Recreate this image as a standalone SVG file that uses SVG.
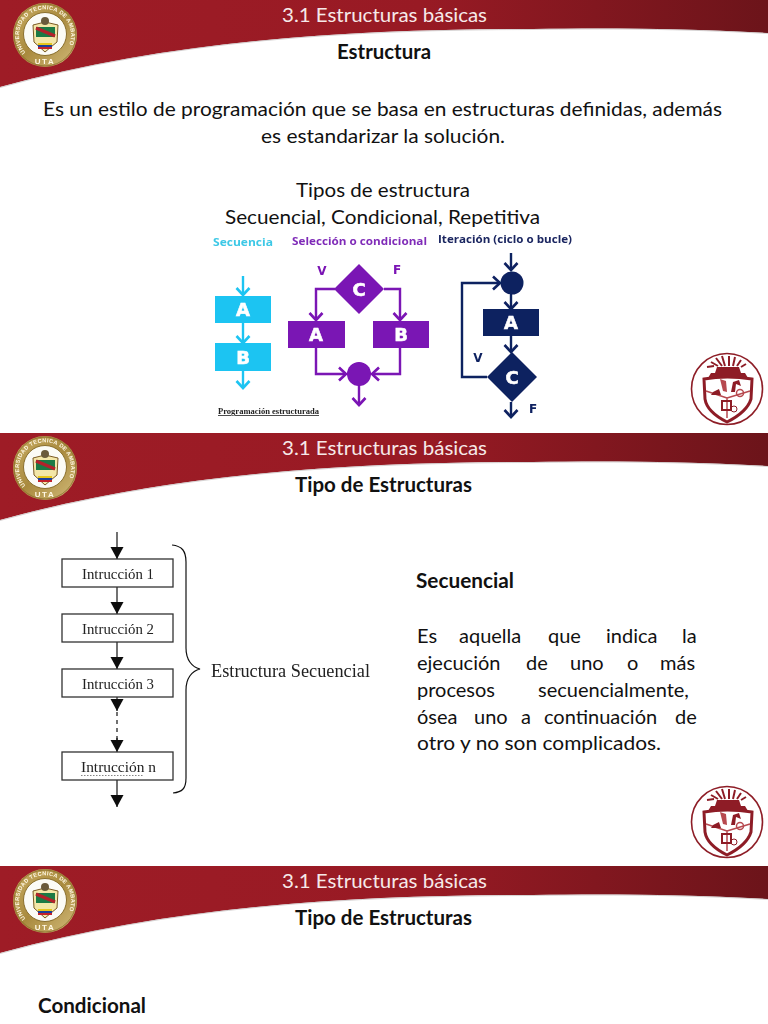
<svg xmlns="http://www.w3.org/2000/svg" xmlns:xlink="http://www.w3.org/1999/xlink" width="768" height="1024" viewBox="0 0 768 1024">
<style>
.t{font-family:Lato,"Open Sans","Liberation Sans",sans-serif;font-size:20px;fill:#111}
.b{font-weight:700}
.h{font-family:Lato,"Open Sans","Liberation Sans",sans-serif;font-size:20px;fill:#f6e9e9}
.lt{font-family:"DejaVu Sans","Liberation Sans",sans-serif;font-weight:700;font-size:18px;fill:#fff;stroke:#fff;stroke-width:.6;text-anchor:middle}
.vf{font-family:"DejaVu Sans","Liberation Sans",sans-serif;font-weight:700;font-size:12px;text-anchor:middle}
.fc{font-family:"Open Sans","Liberation Sans",sans-serif;font-weight:700;font-size:11px}
.s{font-family:"Liberation Serif",serif;fill:#222}
.c{fill:none;stroke-width:2.4}
.cy{stroke:#1fc4f2}.pu{stroke:#7a12b4}.na{stroke:#0e2060}
.k{stroke:#111;stroke-width:1.2;fill:none}
.box{fill:#fff;stroke:#333;stroke-width:1.3}
</style>
<defs>
<linearGradient id="band" x1="0" x2="1" y1="0" y2="0"><stop offset="0" stop-color="#9e1c26"/><stop offset=".55" stop-color="#981a24"/><stop offset="1" stop-color="#6c141a"/></linearGradient>
<linearGradient id="gold" x1="0" x2="1" y1="0" y2="1"><stop offset="0" stop-color="#c9ad63"/><stop offset=".5" stop-color="#a98a3e"/><stop offset="1" stop-color="#d3bc7c"/></linearGradient>
<filter id="soft" x="-5%" y="-5%" width="110%" height="110%"><feGaussianBlur stdDeviation=".45"/></filter>
<marker id="hc" markerUnits="userSpaceOnUse" markerWidth="16" markerHeight="16" refX="10" refY="8" orient="auto"><path d="M3 1.500L10 8L3 14.500" fill="none" stroke="#1fc4f2" stroke-width="2.600"/></marker>
<marker id="hp" markerUnits="userSpaceOnUse" markerWidth="16" markerHeight="16" refX="10" refY="8" orient="auto"><path d="M3 1.500L10 8L3 14.500" fill="none" stroke="#7a12b4" stroke-width="2.600"/></marker>
<marker id="hn" markerUnits="userSpaceOnUse" markerWidth="16" markerHeight="16" refX="10" refY="8" orient="auto"><path d="M3 1.500L10 8L3 14.500" fill="none" stroke="#0e2060" stroke-width="2.600"/></marker>
<marker id="hk" markerUnits="userSpaceOnUse" markerWidth="14" markerHeight="14" refX="12" refY="7" orient="auto"><path d="M0 0.500L12 7L0 13.500Z" fill="#111"/></marker>
<path id="arcFull" d="M25.500 52.500A26 26 0 1 1 64.500 52.500" fill="none"/>
<g id="bandShape">
<path d="M0 0H768V33C680 28 600 28 533 29C350 29 170 40 0 87Z" fill="url(#band)"/>
<path d="M768 33.500C680 28.500 600 28.500 533 29.500C350 29.500 170 40.500 0 87.500" fill="none" stroke="#c9c5c5" stroke-width=".8"/>
</g>
<g id="uta" filter="url(#soft)">
<circle cx="45" cy="35" r="32" fill="url(#gold)"/>
<circle cx="45" cy="35" r="31" fill="none" stroke="#8a6f2c" stroke-width=".8"/>
<circle cx="45" cy="34" r="21.500" fill="#fbfbf6" stroke="#8a6f2c"/>
<text font-family="'Liberation Sans',sans-serif" font-weight="700" font-size="5.600" letter-spacing=".35" fill="#fff8e4"><textPath href="#arcFull" xlink:href="#arcFull">UNIVERSIDAD TECNICA DE AMBATO</textPath></text>
<text x="45" y="64" font-family="'Liberation Sans',sans-serif" font-weight="700" font-size="8" letter-spacing="1.500" text-anchor="middle" fill="#fff8e4">UTA</text>
<path d="M33 25L45 22L58 25L57 42L45 52L34 42Z" fill="#f3e7a8" stroke="#7a5a24"/>
<rect x="36" y="27" width="19" height="10" fill="#1f7a45"/>
<path d="M36 28L55 36" stroke="#b3202c" stroke-width="3.500"/>
<circle cx="45" cy="21" r="4" fill="#6a5a3a"/>
<rect x="38" y="43" width="14" height="2" fill="#e7c71c"/><rect x="38" y="45" width="14" height="2" fill="#1f3f9a"/><rect x="38" y="47" width="14" height="2" fill="#c3202c"/>
</g>
<g id="seal" filter="url(#soft)">
<circle cx="727" cy="389" r="35.500" fill="#fff" stroke="#8e1f28" stroke-width="1.600"/>
<path d="M707 367L714 366M711 362L718 366M716 358L722 366M722 356L725 366M729 356L729 366M735 357L733 366M741 360L737 366M746 364L741 367" stroke="#8e1f28" stroke-width="2" fill="none"/>
<path d="M708 378L711 373H715L717 367H739L741 373H745L748 378Z" fill="#8e1f28"/>
<path d="M704 379Q727 375 752 379L751 399Q747 412 727 422Q707 412 705 399Z" fill="#fff" stroke="#8e1f28" stroke-width="3"/>
<path d="M727 398V418M727 398L706 391M727 398L750 391" stroke="#b74a50" stroke-width="1.500" fill="none"/>
<path d="M720 379L723 391L727 392L726 381Z" fill="#b74a50"/>
<path d="M731 392L733 382L739 380L741 386L736 384L735 392Z" fill="#8e1f28"/>
<path d="M713 392L719 389L721 395L711 395Z" fill="#8e1f28"/>
<rect x="722" y="401" width="9" height="9" fill="none" stroke="#8e1f28" stroke-width="2"/>
<circle cx="740" cy="393" r="3.500" fill="none" stroke="#b74a50" stroke-width="1.500"/>
<circle cx="734" cy="409" r="3" fill="none" stroke="#8e1f28"/>
</g>
</defs>

<g id="slide-1-header">
<use href="#bandShape" xlink:href="#bandShape"/>
<use href="#uta" xlink:href="#uta"/>
<text class="h" x="282" y="22" textLength="205" lengthAdjust="spacingAndGlyphs">3.1 Estructuras básicas</text>
</g>
<g id="slide-1-text">
<text class="t b" x="337" y="59" textLength="94" lengthAdjust="spacingAndGlyphs">Estructura</text>
<text class="t" x="43" y="116" textLength="679" lengthAdjust="spacingAndGlyphs">Es un estilo de programación que se basa en estructuras definidas, además</text>
<text class="t" x="261" y="143" textLength="244" lengthAdjust="spacingAndGlyphs">es estandarizar la solución.</text>
<text class="t" x="296" y="197" textLength="174" lengthAdjust="spacingAndGlyphs">Tipos de estructura</text>
<text class="t" x="225" y="224" textLength="315" lengthAdjust="spacingAndGlyphs">Secuencial, Condicional, Repetitiva</text>
</g>

<g id="connectors" filter="url(#soft)">
<path class="c cy" marker-end="url(#hc)" d="M243 276V295"/>
<path class="c cy" marker-end="url(#hc)" d="M243 323V343"/>
<path class="c cy" marker-end="url(#hc)" d="M243 371V388"/>
<path class="c pu" marker-end="url(#hp)" d="M335 289H316V320"/>
<path class="c pu" marker-end="url(#hp)" d="M384 289H400V320"/>
<path class="c pu" marker-end="url(#hp)" d="M316 348V374H346"/>
<path class="c pu" marker-end="url(#hp)" d="M400 348V374H372"/>
<path class="c pu" marker-end="url(#hp)" d="M359 385V405"/>
<path class="c na" marker-end="url(#hn)" d="M511 253V270"/>
<path class="c na" marker-end="url(#hn)" d="M511 294V309"/>
<path class="c na" marker-end="url(#hn)" d="M511 336V352"/>
<path class="c na" marker-end="url(#hn)" d="M487 377H462V283H500"/>
<path class="c na" marker-end="url(#hn)" d="M511 402V417"/>
<path class="k" marker-end="url(#hk)" d="M117 532V559"/>
<path class="k" marker-end="url(#hk)" d="M117 587V614"/>
<path class="k" marker-end="url(#hk)" d="M117 642V669"/>
<path class="k" marker-end="url(#hk)" d="M117 697V711"/>
<path class="k" stroke-dasharray="4 4" d="M117 712V740"/>
<path class="k" marker-end="url(#hk)" d="M117 738V752"/>
<path class="k" marker-end="url(#hk)" d="M117 780V807"/>
<path class="k" d="M172 545C182 546 186 551 186 562V648C186 660 192 667 200 669C192 671 186 678 186 690V778C186 789 182 792 173 793"/>
</g>

<g filter="url(#soft)">
<g id="title-secuencia"><text class="fc" x="213" y="246" fill="#3cc8e6" textLength="60" lengthAdjust="spacingAndGlyphs">Secuencia</text></g>
<g id="title-seleccion"><text class="fc" x="292" y="245" fill="#7f2bb8" textLength="135" lengthAdjust="spacingAndGlyphs">Selección o condicional</text></g>
<g id="title-iteracion"><text class="fc" x="438" y="243" fill="#1a2560" textLength="134" lengthAdjust="spacingAndGlyphs">Iteración (ciclo o bucle)</text></g>
<g id="seq-a"><rect x="215" y="296" width="56" height="27" fill="#1fc4f2"/><text class="lt" x="243" y="316">A</text></g>
<g id="seq-b"><rect x="215" y="343" width="56" height="28" fill="#1fc4f2"/><text class="lt" x="243" y="364">B</text></g>
<g id="sel-c"><path d="M359 264L384 289L359 314L334 289Z" fill="#7a12b4"/><text class="lt" x="359" y="296">C</text></g>
<g id="sel-a"><rect x="288" y="321" width="57" height="27" fill="#7a12b4"/><text class="lt" x="316" y="341">A</text></g>
<g id="sel-b"><rect x="373" y="321" width="56" height="27" fill="#7a12b4"/><text class="lt" x="401" y="341">B</text></g>
<g id="sel-merge"><circle cx="359" cy="374" r="12" fill="#7a12b4"/></g>
<g id="it-merge"><circle cx="512" cy="283" r="11.500" fill="#0e2060"/></g>
<g id="it-a"><rect x="483" y="309" width="56" height="27" fill="#0e2060"/><text class="lt" x="511" y="329">A</text></g>
<g id="it-c"><path d="M512 352L537 377L512 402L487 377Z" fill="#0e2060"/><text class="lt" x="512" y="384">C</text></g>
<text class="vf" x="322" y="275" fill="#7a12b4">V</text>
<text class="vf" x="397" y="274" fill="#7a12b4">F</text>
<text class="vf" x="478" y="362" fill="#0e2060">V</text>
<text class="vf" x="533" y="413" fill="#0e2060">F</text>
<text class="s" x="218" y="414" font-size="8" font-weight="700" textLength="101" lengthAdjust="spacingAndGlyphs" text-decoration="underline">Programación estructurada</text>
</g>
<use id="seal-1" href="#seal" xlink:href="#seal"/>

<g id="slide-2-header" transform="translate(0 433)">
<use href="#bandShape" xlink:href="#bandShape"/>
<use href="#uta" xlink:href="#uta"/>
<text class="h" x="282" y="22" textLength="205" lengthAdjust="spacingAndGlyphs">3.1 Estructuras básicas</text>
<text class="t b" x="295" y="59" textLength="177" lengthAdjust="spacingAndGlyphs">Tipo de Estructuras</text>
</g>
<g filter="url(#soft)">
<g id="ins-1"><rect class="box" x="62" y="559" width="111" height="28"/><text class="s" x="82" y="579" font-size="15" textLength="72" lengthAdjust="spacingAndGlyphs">Intrucción 1</text></g>
<g id="ins-2"><rect class="box" x="62" y="614" width="111" height="28"/><text class="s" x="82" y="634" font-size="15" textLength="72" lengthAdjust="spacingAndGlyphs">Intrucción 2</text></g>
<g id="ins-3"><rect class="box" x="62" y="669" width="111" height="28"/><text class="s" x="82" y="689" font-size="15" textLength="72" lengthAdjust="spacingAndGlyphs">Intrucción 3</text></g>
<g id="ins-n"><rect class="box" x="62" y="752" width="111" height="28"/><text class="s" x="81" y="772" font-size="15" textLength="75" lengthAdjust="spacingAndGlyphs">Intrucción n</text><path d="M81 775.500H144" stroke="#666" stroke-width=".8" stroke-dasharray="1.500 1.500"/></g>
<g id="label-secuencial"><text class="s" x="211" y="677" font-size="18" textLength="159" lengthAdjust="spacingAndGlyphs">Estructura Secuencial</text></g>
</g>
<g id="slide-2-text">
<text class="t b" x="416" y="588" textLength="98" lengthAdjust="spacingAndGlyphs">Secuencial</text>
<text class="t" y="643"><tspan x="417">Es</tspan><tspan x="459">aquella</tspan><tspan x="548">que</tspan><tspan x="606">indica</tspan><tspan x="682">la</tspan></text>
<text class="t" y="670"><tspan x="417">ejecución</tspan><tspan x="526">de</tspan><tspan x="570">uno</tspan><tspan x="627">o</tspan><tspan x="660">más</tspan></text>
<text class="t" y="697"><tspan x="417">procesos</tspan><tspan x="538">secuencialmente,</tspan></text>
<text class="t" y="724"><tspan x="417">ósea</tspan><tspan x="474">uno</tspan><tspan x="521">a</tspan><tspan x="544">continuación</tspan><tspan x="675">de</tspan></text>
<text class="t" x="417" y="750" textLength="244" lengthAdjust="spacingAndGlyphs">otro y no son complicados.</text>
</g>
<use id="seal-2" href="#seal" xlink:href="#seal" transform="translate(0 433)"/>

<g id="slide-3-header" transform="translate(0 866)">
<use href="#bandShape" xlink:href="#bandShape"/>
<use href="#uta" xlink:href="#uta"/>
<text class="h" x="282" y="22" textLength="205" lengthAdjust="spacingAndGlyphs">3.1 Estructuras básicas</text>
<text class="t b" x="295" y="59" textLength="177" lengthAdjust="spacingAndGlyphs">Tipo de Estructuras</text>
<text class="t b" x="38" y="147" textLength="108" lengthAdjust="spacingAndGlyphs">Condicional</text>
</g>
</svg>
